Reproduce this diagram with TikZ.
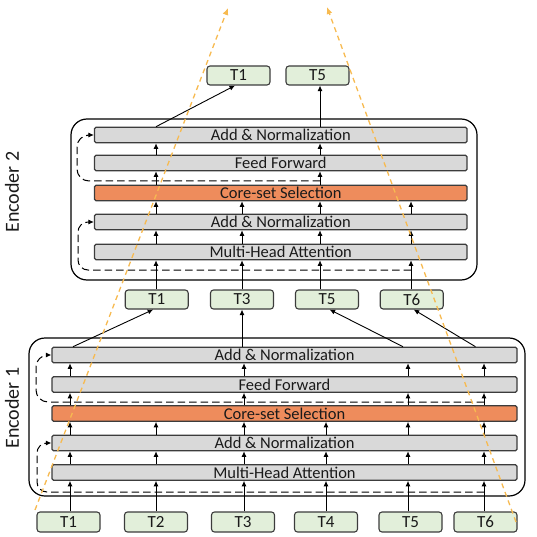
\documentclass[tikz,border=0pt]{standalone}
\usepackage{fontspec}
\setmainfont{Carlito}
\usetikzlibrary{arrows.meta,calc}
\definecolor{tokfill}{HTML}{E2EFDA}
\definecolor{barfill}{HTML}{D9D9D9}
\definecolor{csfill}{HTML}{EE8C5C}
\definecolor{edge}{HTML}{3C3C3C}
\definecolor{guide}{HTML}{F7BA50}
\definecolor{txt}{HTML}{1A1A1A}
\begin{document}
\begin{tikzpicture}[x=1pt,y=-1pt,
 tok/.style={draw=edge, fill=tokfill, rounded corners=3pt, line width=1.1pt, minimum width=63pt, minimum height=19pt, inner sep=0pt, text=txt, font=\fontsize{17}{20}\selectfont},
 bar/.style={draw=edge, fill=barfill, rounded corners=1.5pt, line width=1.1pt, inner sep=0pt, minimum height=15.5pt, text=txt, font=\fontsize{16.5}{18}\selectfont},
 csbar/.style={bar, fill=csfill},
 encbox/.style={draw=black, rounded corners=16pt, line width=1.2pt, inner sep=0pt},
 arr/.style={-{Latex[length=5.5pt,width=5pt]}, line width=0.9pt},
 skip/.style={arr, line width=1pt, dash pattern=on 7.5pt off 4pt},
 guideline/.style={draw=guide, line width=1.3pt, dash pattern=on 5pt off 4pt, -{Latex[length=7pt,width=6pt]}},
 lbl/.style={rotate=90, text=txt, font=\fontsize{20}{24}\selectfont}]
\path[use as bounding box] (0,0) rectangle (537,537);

% encoder frames
\node[encbox, minimum width=496pt, minimum height=158pt] (enc1) at (277,417) {};
\node[encbox, minimum width=406pt, minimum height=161pt] (enc2) at (274,199.5) {};

\node[lbl] (lab2) at (12,192) {Encoder 2};
\node[lbl] (lab1) at (12,408) {Encoder 1};

% encoder 1 layers
\node[bar, minimum width=465pt] (an1b) at (284.5,355) {Add \& Normalization};
\node[bar, minimum width=465pt] (ff1) at (284.5,384.5) {Feed Forward};
\node[csbar, minimum width=465pt] (cs1) at (284.5,413.5) {Core-set Selection};
\node[bar, minimum width=465pt] (an1a) at (284.5,443) {Add \& Normalization};
\node[bar, minimum width=465pt] (mha1) at (284.5,472.5) {Multi-Head Attention};

% encoder 2 layers
\node[bar, minimum width=372.5pt] (an2b) at (280.75,135) {Add \& Normalization};
\node[bar, minimum width=372.5pt] (ff2) at (280.75,163) {Feed Forward};
\node[csbar, minimum width=372.5pt] (cs2) at (280.75,193) {Core-set Selection};
\node[bar, minimum width=372.5pt] (an2a) at (280.75,222) {Add \& Normalization};
\node[bar, minimum width=372.5pt] (mha2) at (280.75,252) {Multi-Head Attention};

% tokens
\node[tok, minimum height=20pt] (s1) at (68.5,522) {T1};
\node[tok, minimum height=20pt] (s2) at (156,522) {T2};
\node[tok, minimum height=20pt] (s3) at (243,522) {T3};
\node[tok, minimum height=20pt] (s4) at (326,522) {T4};
\node[tok, minimum height=20pt] (s5) at (410.5,522) {T5};
\node[tok, minimum height=20pt] (s6) at (485.5,522) {T6};

\node[tok] (u1) at (156.7,299.5) {T1};
\node[tok] (u3) at (242,299.5) {T3};
\node[tok] (u5) at (327,299.5) {T5};
\node[tok] (u6) at (411.7,299.5) {T6};

\node[tok] (o1) at (238.5,75.5) {T1};
\node[tok] (o5) at (317.5,75.5) {T5};

% columns
\coordinate (a1) at (70,0);
\coordinate (a2) at (156,0);
\coordinate (a3) at (244,0);
\coordinate (a4) at (326,0);
\coordinate (a5) at (408,0);
\coordinate (a6) at (484,0);
\coordinate (b1) at (156,0);
\coordinate (b3) at (242,0);
\coordinate (b5) at (320,0);
\coordinate (b6) at (411,0);

% encoder 1 arrows
\foreach \c/\t in {a1/s1,a2/s2,a3/s3,a4/s4,a5/s5,a6/s6}{
  \draw[arr] (\c |- \t.north) -- (\c |- mha1.south);
  \draw[arr] (\c |- mha1.north) -- (\c |- an1a.south);
  \draw[arr] (\c |- an1a.north) -- (\c |- cs1.south);
}
\foreach \c in {a1,a3,a5,a6}{
  \draw[arr] (\c |- cs1.north) -- (\c |- ff1.south);
  \draw[arr] (\c |- ff1.north) -- (\c |- an1b.south);
}
\draw[skip] (a6 |- 0,492) [rounded corners=10pt] -- (37,492) -- (37,443) [sharp corners] -- (an1a.west);
\draw[skip] (a6 |- 0,402) [rounded corners=12pt] -- (36,402) -- (36,355) [sharp corners] -- (an1b.west);

% encoder 1 -> encoder 2
\draw[arr] ($(a1 |- an1b.north)+(3,0)$) -- ($(u1.south)+(-3.5,0)$);
\draw[arr] (u3 |- an1b.north) -- (u3.south);
\draw[arr] ($(a5 |- an1b.north)+(-5,0)$) -- ($(u5.south)+(2.6,0)$);
\draw[arr] ($(a6 |- an1b.north)+(-8.5,0)$) -- ($(u6.south)+(2,0)$);

% encoder 2 arrows
\foreach \c/\t in {b1/u1,b3/u3,b5/u5,b6/u6}{
  \draw[arr] (\c |- \t.north) -- (\c |- mha2.south);
  \draw[arr] (\c |- mha2.north) -- (\c |- an2a.south);
  \draw[arr] (\c |- an2a.north) -- (\c |- cs2.south);
}
\foreach \c in {b1,b5}{
  \draw[arr] (\c |- cs2.north) -- (\c |- ff2.south);
  \draw[arr] (\c |- ff2.north) -- (\c |- an2b.south);
}
\draw[skip] (b6 |- 0,270) [rounded corners=10pt] -- (78,270) -- (78,222) [sharp corners] -- (an2a.west);
\draw[skip] (b5 |- 0,181) [rounded corners=12pt] -- (77,181) -- (77,135) [sharp corners] -- (an2b.west);

% outputs
\draw[arr] (b1 |- an2b.north) -- ($(o1.south)+(-3.5,0)$);
\draw[arr] (b5 |- an2b.north) -- (b5 |- o5.south);

% guide lines
\coordinate (g1s) at (35,510);
\coordinate (g1e) at (228,8);
\coordinate (g2s) at (516,522);
\coordinate (g2e) at (327,7);
\draw[guideline] (g1s) -- (g1e);
\draw[guideline] (g2s) -- (g2e);
\end{tikzpicture}
\end{document}
